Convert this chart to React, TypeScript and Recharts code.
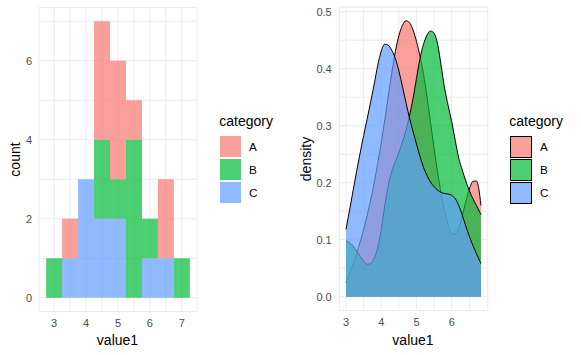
import {BarChart, Bar, AreaChart, Area, XAxis, YAxis, CartesianGrid} from "recharts";

// histogram bins (bin centres, width 0.5) and counts per category
const bins = [3, 3.5, 4, 4.5, 5, 5.5, 6, 6.5, 7];
const countA = [0, 1, 0, 3, 3, 1, 0, 2, 0];
const countB = [1, 0, 0, 2, 1, 4, 1, 0, 1];
const countC = [0, 1, 3, 2, 2, 0, 1, 1, 0];

// density curves
const densityX = [
    3.0, 3.1, 3.2, 3.3, 3.4, 3.5, 3.6, 3.7, 3.8, 3.9,
    4.0, 4.1, 4.2, 4.3, 4.4, 4.5, 4.6, 4.7, 4.8, 4.9,
    5.0, 5.1, 5.2, 5.3, 5.4, 5.5, 5.6, 5.7, 5.8, 5.9,
    6.0, 6.1, 6.2, 6.3, 6.4, 6.5, 6.6, 6.7, 6.8, 6.83,
];
const densityA = [
    0.025, 0.040, 0.057, 0.076, 0.096, 0.118, 0.143, 0.170, 0.200, 0.234,
    0.270, 0.310, 0.352, 0.393, 0.430, 0.458, 0.476, 0.484, 0.481, 0.468,
    0.448, 0.422, 0.390, 0.350, 0.305, 0.260, 0.218, 0.181, 0.150, 0.126,
    0.111, 0.110, 0.121, 0.142, 0.167, 0.189, 0.202, 0.203, 0.176, 0.160,
];
const densityB = [
    0.098, 0.095, 0.089, 0.080, 0.071, 0.062, 0.057, 0.058, 0.067, 0.086,
    0.118, 0.160, 0.196, 0.220, 0.237, 0.253, 0.271, 0.292, 0.317, 0.347,
    0.383, 0.418, 0.443, 0.459, 0.466, 0.462, 0.443, 0.405, 0.365, 0.335,
    0.307, 0.274, 0.243, 0.222, 0.203, 0.186, 0.172, 0.160, 0.148, 0.144,
];
const densityC = [
    0.118, 0.152, 0.186, 0.220, 0.252, 0.283, 0.312, 0.342, 0.373, 0.406,
    0.431, 0.443, 0.441, 0.432, 0.418, 0.396, 0.369, 0.341, 0.314, 0.290,
    0.268, 0.246, 0.227, 0.212, 0.201, 0.193, 0.187, 0.183, 0.181, 0.180,
    0.178, 0.172, 0.160, 0.143, 0.124, 0.106, 0.090, 0.076, 0.062, 0.058,
];

const categories = ["A", "B", "C"];
const colors: Record<string, string> = {A: "#F8766D", B: "#00BA38", C: "#619CFF"};
const legendSoft: Record<string, string> = {A: "#FA9F99", B: "#4DCF74", C: "#90BAFF"};

const histTicksY = [0, 1, 2, 3, 4, 5, 6, 7];
const densTicksX = [3, 3.5, 4, 4.5, 5, 5.5, 6, 6.5];
const densTicksY = [0, 0.05, 0.1, 0.15, 0.2, 0.25, 0.3, 0.35, 0.4, 0.45, 0.5];

const FONT = "'Liberation Sans', Arial, sans-serif";
const GRID = "#EBEBEB";
const TICK = {fontSize: 11, fill: "#4D4D4D"};

export default function App() {
    const histData = bins.map((b, i) => ({bin: b, A: countA[i], B: countB[i], C: countC[i]}));
    const histMax = Math.max(...histData.map((d) => d.A + d.B + d.C));
    const histPad = histMax * 0.05;

    const densData = densityX.map((x, i) => ({x, A: densityA[i], B: densityB[i], C: densityC[i]}));
    const xMin = Math.min(...densityX);
    const xMax = Math.max(...densityX);
    const xPad = (xMax - xMin) * 0.05;
    const yMax = Math.max(...densityA, ...densityB, ...densityC);
    const yPad = yMax * 0.05;

    return (
        <div style={{position: "absolute", left: 0, top: 0, width: 581, height: 355, background: "#fff", fontFamily: FONT}}>
            <div style={{position: "absolute", left: 0, top: 0}}>
                <BarChart
                    width={200}
                    height={340}
                    data={histData}
                    margin={{top: 7.4, right: 3, bottom: 0, left: 0}}
                    barCategoryGap={0}
                    barGap={0}
                >
                    <CartesianGrid stroke={GRID} strokeWidth={1}/>
                    <XAxis
                        dataKey="bin"
                        interval={0}
                        axisLine={false}
                        tickLine={false}
                        tickSize={6}
                        tickMargin={2}
                        height={28.4}
                        padding={{left: 7.2, right: 7.2}}
                        tick={TICK}
                        tickFormatter={(v: number) => (Number.isInteger(v) ? String(v) : "")}
                    />
                    <YAxis
                        type="number"
                        domain={[-histPad, histMax + histPad]}
                        ticks={histTicksY}
                        interval={0}
                        width={39}
                        axisLine={false}
                        tickLine={false}
                        tickSize={5}
                        tickMargin={2}
                        tick={TICK}
                        tickFormatter={(v: number) => (v % 2 === 0 ? String(v) : "")}
                    />
                    <Bar dataKey="C" stackId="s" fill={colors.C} fillOpacity={0.7} isAnimationActive={false}/>
                    <Bar dataKey="B" stackId="s" fill={colors.B} fillOpacity={0.7} isAnimationActive={false}/>
                    <Bar dataKey="A" stackId="s" fill={colors.A} fillOpacity={0.7} isAnimationActive={false}/>
                </BarChart>
            </div>

            <div style={{position: "absolute", left: 290, top: 0}}>
                <AreaChart
                    width={200}
                    height={340}
                    data={densData}
                    margin={{top: 7, right: 2.3, bottom: 0, left: 0}}
                >
                    <CartesianGrid stroke={GRID} strokeWidth={1}/>
                    <XAxis
                        dataKey="x"
                        type="number"
                        domain={[xMin - xPad, xMax + xPad]}
                        ticks={densTicksX}
                        interval={0}
                        axisLine={false}
                        tickLine={false}
                        tickSize={6}
                        tickMargin={2}
                        height={29.5}
                        tick={TICK}
                        tickFormatter={(v: number) => (Number.isInteger(v) ? String(v) : "")}
                    />
                    <YAxis
                        type="number"
                        domain={[-yPad, yMax + yPad]}
                        ticks={densTicksY}
                        interval={0}
                        width={49.3}
                        axisLine={false}
                        tickLine={false}
                        tickSize={5.6}
                        tickMargin={2}
                        tick={TICK}
                        tickFormatter={(v: number) => (Math.round(v * 100) % 10 === 0 ? v.toFixed(1) : "")}
                    />
                    {categories.map((c) => (
                        <Area
                            key={c}
                            type="monotone"
                            dataKey={c}
                            baseValue={0}
                            fill={colors[c]}
                            fillOpacity={0.7}
                            stroke="#000"
                            strokeWidth={1}
                            dot={false}
                            activeDot={false}
                            isAnimationActive={false}
                        />
                    ))}
                </AreaChart>
            </div>

            <svg width={581} height={355} style={{position: "absolute", left: 0, top: 0, pointerEvents: "none"}}>
                <g fontFamily={FONT} fill="#000">
                    <text x={20} y={159.5} fontSize={14} textAnchor="middle" transform="rotate(-90 20 159.5)">count</text>
                    <text x={117.5} y={345} fontSize={14} textAnchor="middle">value1</text>
                    <text x={311} y={159} fontSize={14} textAnchor="middle" transform="rotate(-90 311 159)">density</text>
                    <text x={413} y={345} fontSize={14} textAnchor="middle">value1</text>

                    <text x={219.3} y={126} fontSize={14}>category</text>
                    {categories.map((c, i) => (
                        <g key={"l" + c}>
                            <rect x={220} y={136 + i * 23} width={21} height={21} fill={legendSoft[c]}/>
                            <text x={249} y={150.6 + i * 23} fontSize={11.7}>{c}</text>
                        </g>
                    ))}

                    <text x={509.3} y={126} fontSize={14}>category</text>
                    {categories.map((c, i) => (
                        <g key={"r" + c}>
                            <rect x={510.5} y={136.5 + i * 23} width={21} height={21} fill={legendSoft[c]} stroke="#000" strokeWidth={1}/>
                            <text x={540} y={150.6 + i * 23} fontSize={11.7}>{c}</text>
                        </g>
                    ))}
                </g>
            </svg>
        </div>
    );
}
